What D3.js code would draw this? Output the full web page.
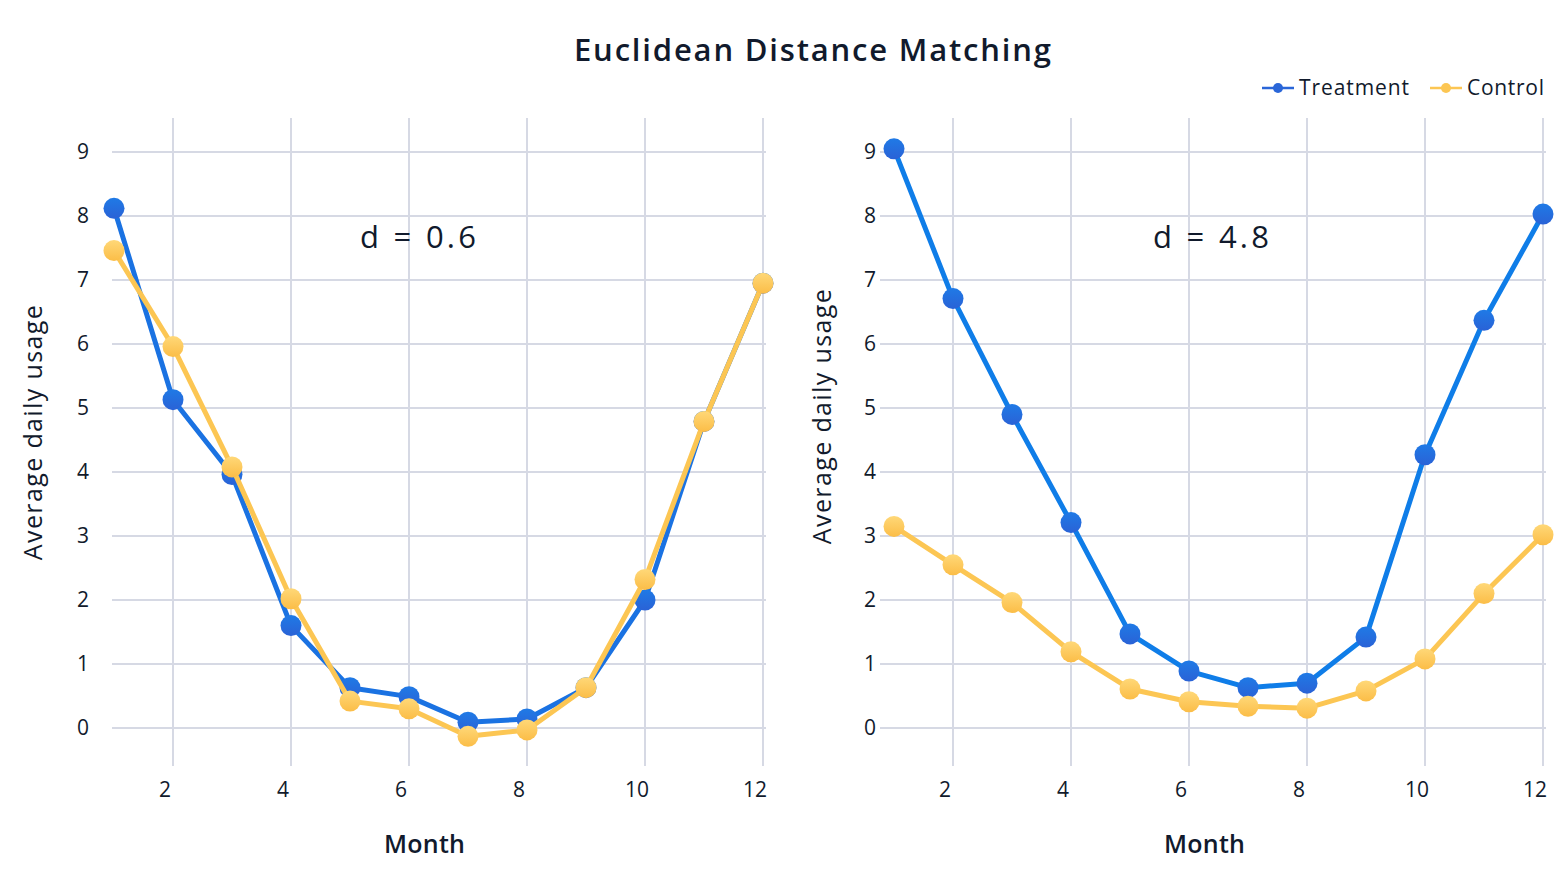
<!DOCTYPE html>
<html><head><meta charset="utf-8">
<script src="https://cdn.jsdelivr.net/npm/d3@7"></script>
<style>body{margin:0;background:#fff;} text{font-family:"Open Sans","Noto Sans",sans-serif;fill:#111a2c;}</style>
</head><body>
<svg id="c" width="1562" height="886"></svg>
<script>
const months = [1,2,3,4,5,6,7,8,9,10,11,12];
const xTicks = [2,4,6,8,10,12];
const yTicks = [0,1,2,3,4,5,6,7,8,9];
const leftTreatment = [8.12,5.13,3.96,1.6,0.63,0.49,0.09,0.14,0.63,2.0,4.79,6.95];
const leftControl   = [7.46,5.96,4.08,2.02,0.42,0.30,-0.13,-0.03,0.63,2.32,4.79,6.95];
const rightTreatment = [9.05,6.71,4.9,3.21,1.47,0.89,0.63,0.70,1.42,4.27,6.37,8.03];
const rightControl   = [3.15,2.55,1.96,1.19,0.61,0.41,0.34,0.31,0.58,1.08,2.1,3.02];
const panelLabels = ["d = 0.6","d = 4.8"];
const seriesNames = ["Treatment","Control"];

const svg = d3.select("#c");
const defs = svg.append("defs");
const gB = defs.append("linearGradient").attr("id","gb").attr("x1",0).attr("y1",0).attr("x2",0).attr("y2",1);
gB.append("stop").attr("offset","0%").attr("stop-color","#1f7ae6");
gB.append("stop").attr("offset","100%").attr("stop-color","#2a62d6");
const gY = defs.append("linearGradient").attr("id","gy").attr("x1",0).attr("y1",0).attr("x2",0).attr("y2",1);
gY.append("stop").attr("offset","0%").attr("stop-color","#ffd878");
gY.append("stop").attr("offset","100%").attr("stop-color","#fbbd47");

function fit(sel, target){
  const node = sel.node();
  const w = node.getComputedTextLength();
  const n = sel.text().length;
  if(n>1) sel.attr("letter-spacing", ((target - w)/(n-1)).toFixed(2));
  return sel;
}

const title = svg.append("text").attr("x",574).attr("y",61).attr("text-anchor","start")
  .attr("font-size",31).attr("font-weight",600).text("Euclidean Distance Matching");
fit(title, 477);

const y = d3.scaleLinear().domain([0,9]).range([728,152]);

const panels = [
  {x0:114, x1:763, gl:112, gr:766, tickX:89, ytitleX:42, ytitleY:432, monthX:384, annX:360, T:leftTreatment, C:leftControl, label:panelLabels[0], tLine:"#1a72e2"},
  {x0:894, x1:1543, gl:880, gr:1546, tickX:876, ytitleX:831, ytitleY:416, monthX:1164, annX:1153, T:rightTreatment, C:rightControl, label:panelLabels[1], tLine:"#0f7de8"}
];

panels.forEach(p => {
  const x = d3.scaleLinear().domain([1,12]).range([p.x0,p.x1]);
  const g = svg.append("g");
  g.selectAll(".hg").data(yTicks).join("line")
    .attr("x1",p.gl).attr("x2",p.gr).attr("y1",d=>y(d)).attr("y2",d=>y(d))
    .attr("stroke","#d6d9e4").attr("stroke-width",2);
  g.selectAll(".vg").data(xTicks).join("line")
    .attr("x1",d=>x(d)).attr("x2",d=>x(d)).attr("y1",118).attr("y2",766)
    .attr("stroke","#d6d9e4").attr("stroke-width",2);
  g.selectAll(".yl").data(yTicks).join("text")
    .attr("x",p.tickX).attr("y",d=>y(d)).attr("dy","0.35em").attr("text-anchor","end")
    .attr("font-size",21).text(d=>d);
  g.selectAll(".xl").data(xTicks).join("text")
    .attr("x",d=>x(d)-8).attr("y",790).attr("dy","0.35em").attr("text-anchor","middle")
    .attr("font-size",21).text(d=>d);
  const yt = g.append("text").attr("transform",`translate(${p.ytitleX},${p.ytitleY}) rotate(-90)`)
    .attr("text-anchor","middle").attr("font-size",25).text("Average daily usage");
  fit(yt, 255);
  const mt = g.append("text").attr("x",p.monthX).attr("y",853).attr("text-anchor","start")
    .attr("font-size",25).attr("font-weight",600).text("Month");
  fit(mt, 81);
  const at = g.append("text").attr("x",p.annX).attr("y",248).attr("text-anchor","start")
    .attr("font-size",31).text(p.label);
  fit(at, 116);

  const line = d3.line().x((d,i)=>x(months[i])).y(d=>y(d));
  const drawSeries = (vals, col, fill) => {
    g.append("path").datum(vals).attr("d",line).attr("fill","none")
      .attr("stroke",col).attr("stroke-width",5).attr("stroke-linejoin","round");
    g.selectAll(null).data(vals).join("circle")
      .attr("cx",(d,i)=>x(months[i])).attr("cy",d=>y(d)).attr("r",10.5).attr("fill",fill);
  };
  drawSeries(p.T, p.tLine, "url(#gb)");
  drawSeries(p.C, "#fcc653", "url(#gy)");
});

const legend = [{name:seriesNames[0], x:1262, c:"#2a66d8", w:110},{name:seriesNames[1], x:1430, c:"#fcc653", w:77}];
legend.forEach(l => {
  svg.append("line").attr("x1",l.x).attr("x2",l.x+32).attr("y1",88).attr("y2",88).attr("stroke",l.c).attr("stroke-width",2.5);
  svg.append("circle").attr("cx",l.x+16).attr("cy",88).attr("r",5).attr("fill",l.c);
  const t = svg.append("text").attr("x",l.x+37).attr("y",88).attr("dy","0.35em").attr("font-size",21).text(l.name);
  fit(t, l.w);
});
</script>
</body></html>
